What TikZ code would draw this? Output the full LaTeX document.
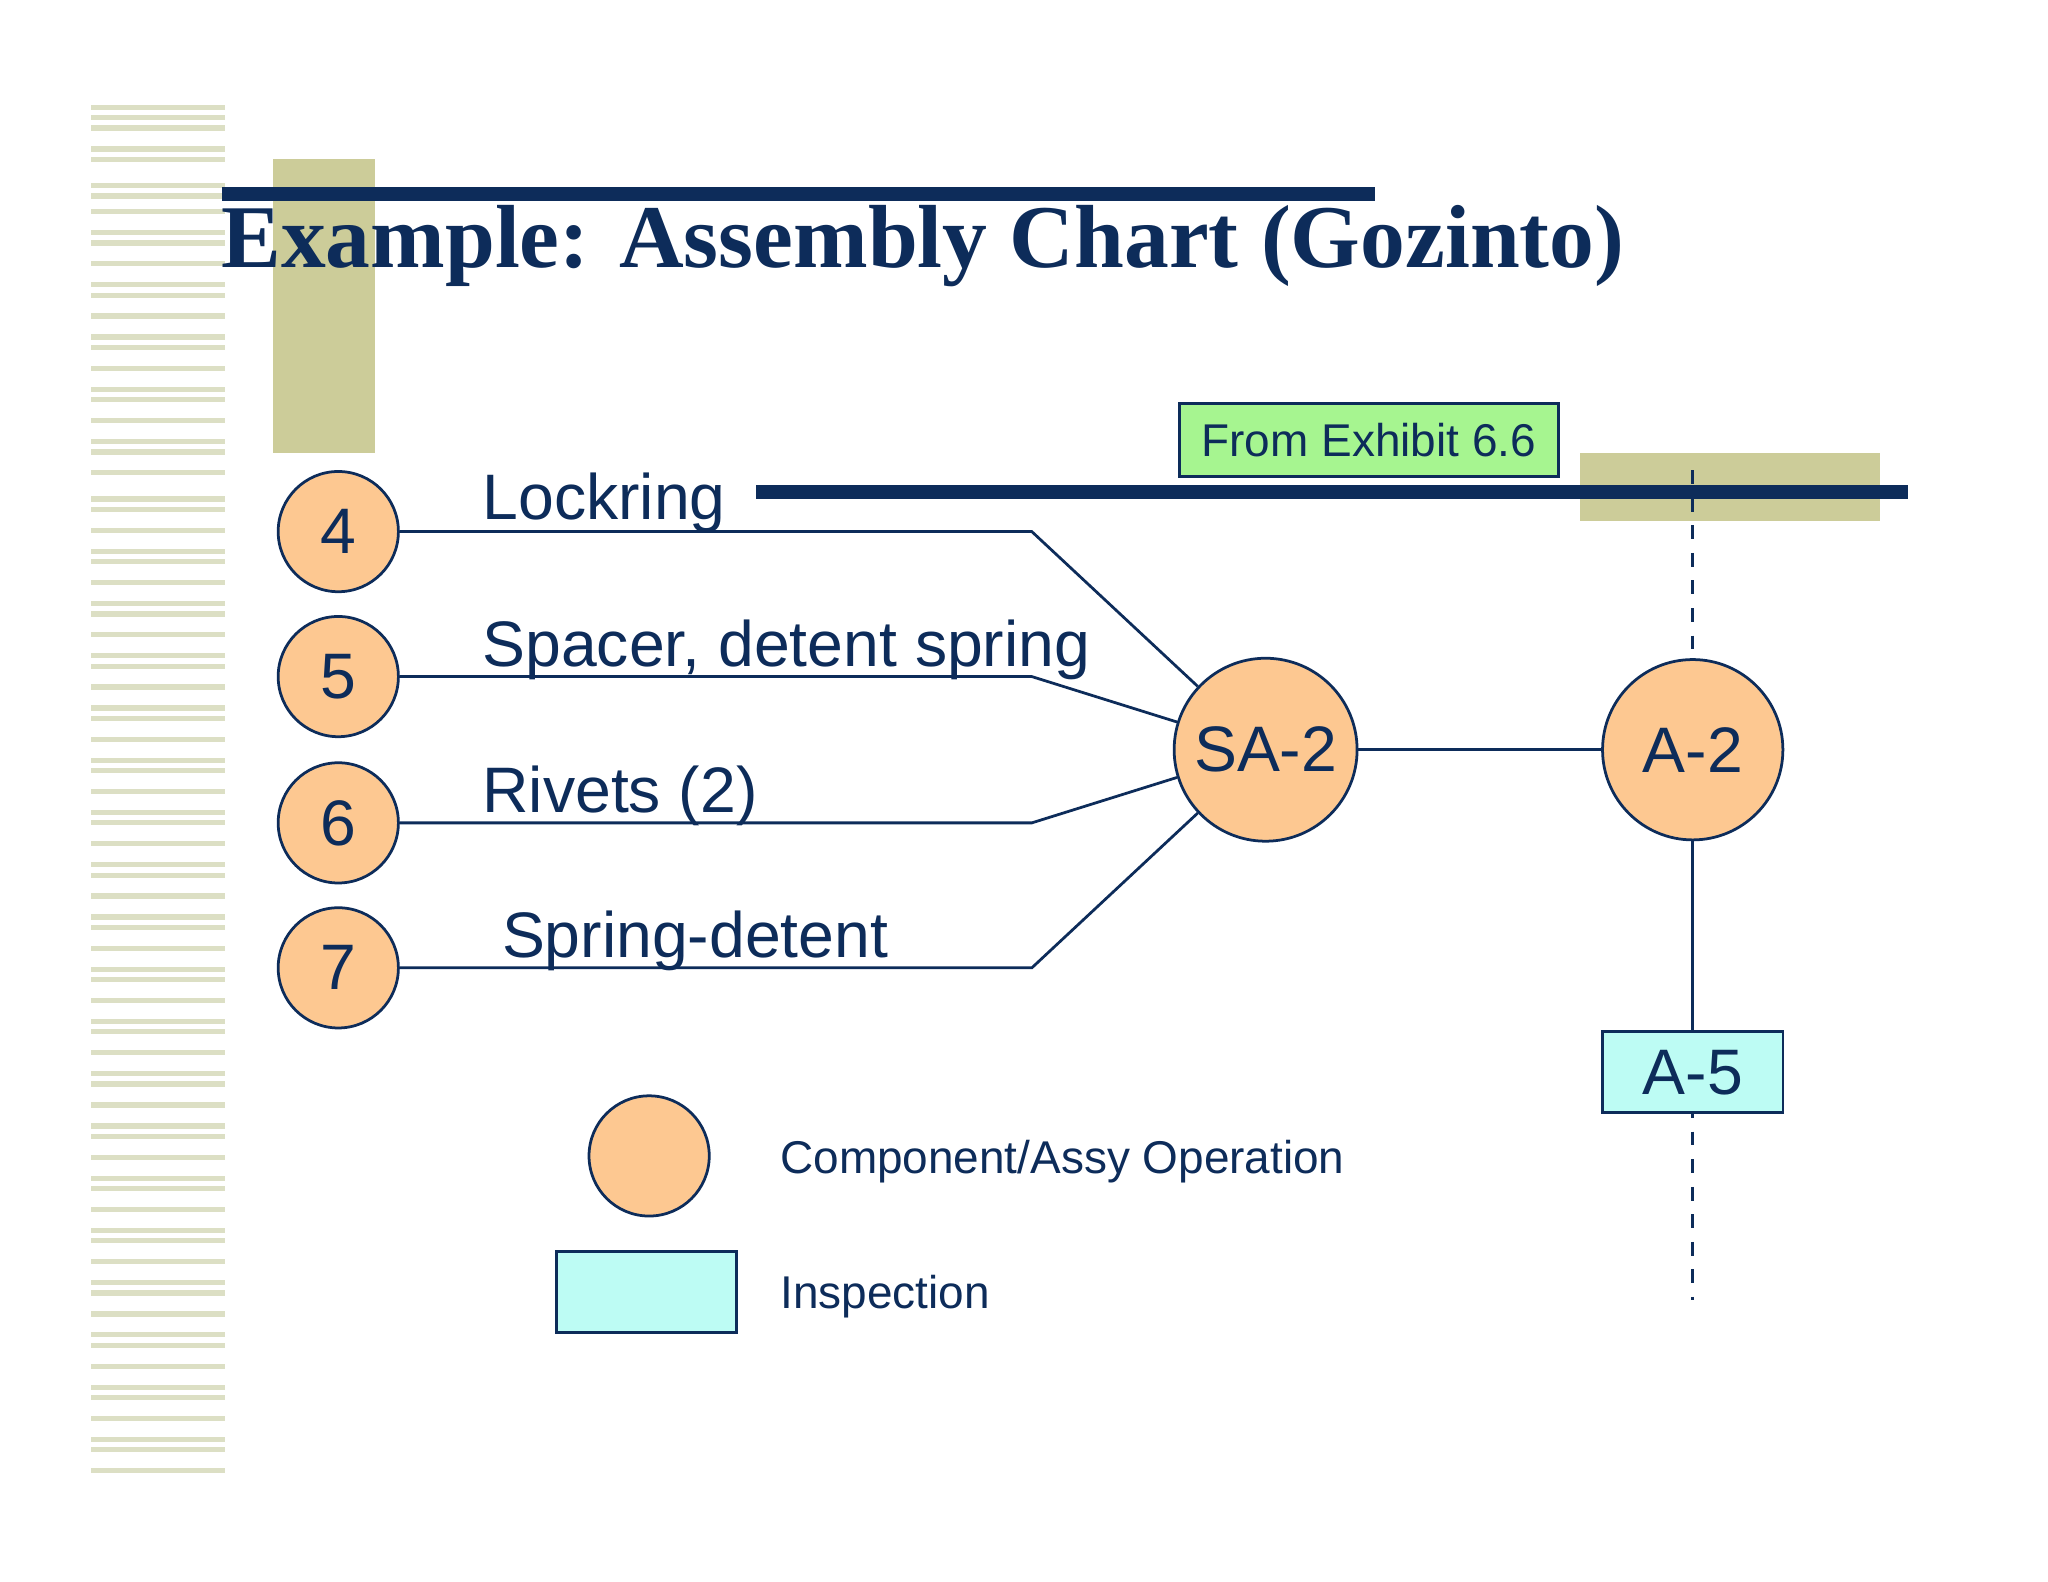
\documentclass[tikz,border=0pt]{standalone}
\usepackage{fontspec}
\setmainfont{Liberation Sans}
\newfontfamily\titlefont{Liberation Serif}
\definecolor{navy}{HTML}{0D2C5A}
\definecolor{olive}{HTML}{CCCC99}
\definecolor{stripe}{HTML}{DCDFC4}
\definecolor{peach}{HTML}{FDC891}
\definecolor{aqua}{HTML}{BDFCF4}
\definecolor{lgreen}{HTML}{A6F590}
\begin{document}
\begin{tikzpicture}[x=0.01cm,y=-0.01cm,
  op/.style={circle,draw=navy,fill=peach,line width=0.6pt,inner sep=0pt,text=navy},
  insp/.style={rectangle,draw=navy,fill=aqua,line width=0.6pt,inner sep=0pt,text=navy},
  lbl/.style={anchor=base west,text=navy,font=\fontsize{14}{16}\selectfont},
  conn/.style={draw=navy,line width=0.6pt},
  big/.style={font=\fontsize{14}{16}\selectfont}]
\useasboundingbox[fill=white] (0,0) rectangle (1568,1211);
% left stripes
\foreach \y in {80,88,96,112,120,140,148,160,176,184,200,216,224,240,256,264,280,296,304,320,336,344,360,380,388,404,420,428,444,460,468,484,500,508,524,540,548,564,580,588,604,620,628,644,660,668,684,700,708,724,740,748,764,780,788,804,820,828,844,860,868,884,900,908,924,940,948,964,980,988,1004,1020,1028,1044,1060,1068,1084,1100,1108,1124}
  \fill[stripe] (70,\y) rectangle (172,\y+4);
% decorations
\fill[olive] (209,122) rectangle (287,347);
\fill[olive] (1210,347) rectangle (1439,399);
\fill[navy] (170,143) rectangle (1053,154);
\fill[navy] (579,371) rectangle (1461,382);
\node[anchor=base west,text=navy,font=\titlefont\bfseries\fontsize{19.5}{22}\selectfont] (title) at (157,205) {Example: Assembly Chart (Gozinto)};
\node[draw=navy,fill=lgreen,line width=0.6pt,minimum width=2.9cm,minimum height=0.56cm,text=navy,font=\fontsize{10}{12}\selectfont] (exh) at (1048,337) {From Exhibit 6.6};
% dashed axis
\coordinate (dtop) at (1296,360);
\coordinate (dbot) at (1296,995);
\draw[navy,dashed,line width=0.6pt] (dtop) -- (dbot);
% components
\node[op,minimum size=0.92cm,big] (c4) at (259,407) {4};
\node[op,minimum size=0.92cm,big] (c5) at (259,518) {5};
\node[op,minimum size=0.92cm,big] (c6) at (259,630) {6};
\node[op,minimum size=0.92cm,big] (c7) at (259,741) {7};
\node[op,minimum size=1.4cm,big] (sa2) at (969,574) {SA-2};
\node[op,minimum size=1.38cm,big] (a2) at (1296,574) {A-2};
\node[insp,minimum width=1.38cm,minimum height=0.62cm,big] (a5) at (1296,821) {A-5};
\coordinate (k4) at (790,407);
\coordinate (k5) at (790,518);
\coordinate (k6) at (790,630);
\coordinate (k7) at (790,741);
\draw[conn] (c4) -- (k4) -- (sa2);
\draw[conn] (c5) -- (k5) -- (sa2);
\draw[conn] (c6) -- (k6) -- (sa2);
\draw[conn] (c7) -- (k7) -- (sa2);
\draw[conn] (sa2) -- (a2);
\draw[conn] (a2) -- (a5);
\node[lbl] (l4) at (357,398) {Lockring};
\node[lbl] (l5) at (357,510) {Spacer, detent spring};
\node[lbl] (l6) at (357,622) {Rivets (2)};
\node[lbl] (l7) at (372,733) {Spring-detent};
% legend
\node[op,minimum size=0.92cm] (lg1) at (497,885) {};
\node[insp,minimum width=1.38cm,minimum height=0.62cm] (lg2) at (495,989) {};
\node[anchor=west,text=navy,font=\fontsize{10}{12}\selectfont] (lt1) at (585,889) {Component/Assy Operation};
\node[anchor=west,text=navy,font=\fontsize{10}{12}\selectfont] (lt2) at (585,993) {Inspection};
\end{tikzpicture}
\end{document}
